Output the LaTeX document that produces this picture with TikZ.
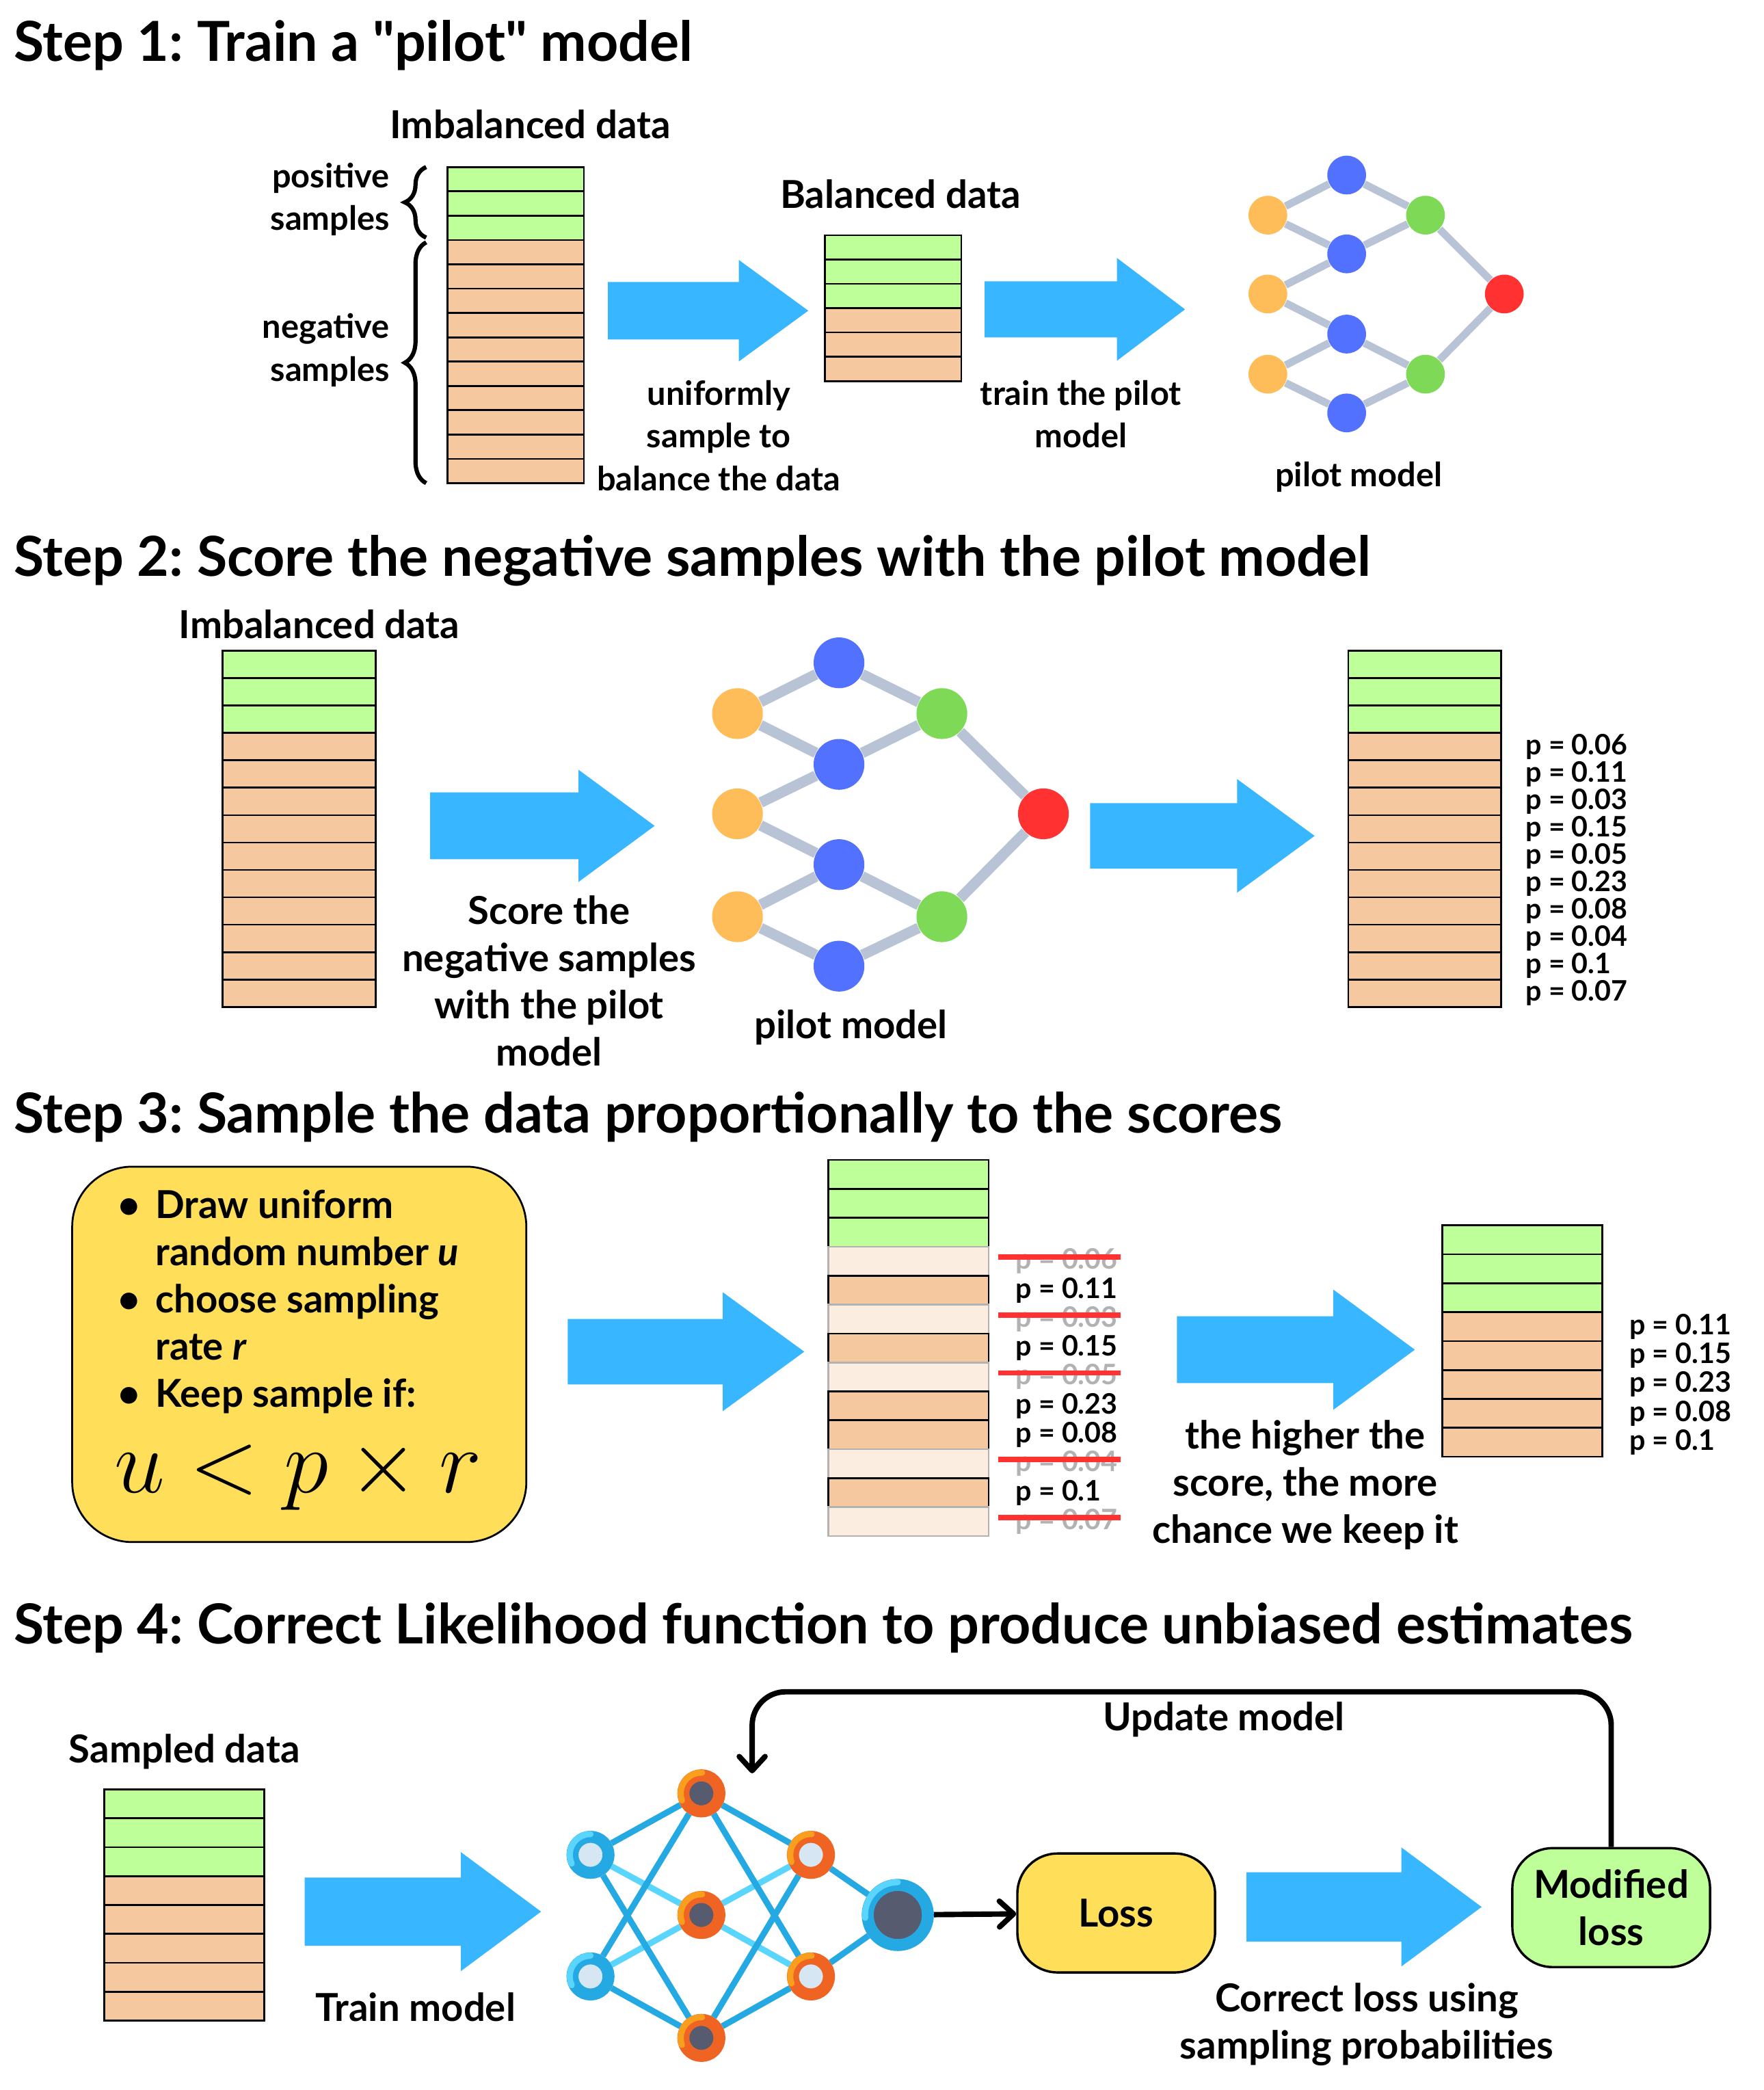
\documentclass[tikz,border=0pt]{standalone}
\usepackage{graphicx}
\usepackage{fontspec}
\setmainfont{Lato}[Ligatures=TeXOff]
\usetikzlibrary{positioning,arrows.meta,decorations.pathreplacing}

\definecolor{posgreen}{RGB}{190,255,153}
\definecolor{negorange}{RGB}{246,200,160}
\definecolor{gonefill}{RGB}{252,237,225}
\definecolor{gonegray}{RGB}{178,178,178}
\definecolor{arrowblue}{RGB}{56,182,255}
\definecolor{notegold}{RGB}{255,222,89}
\definecolor{strikered}{RGB}{255,49,49}
\definecolor{nnorange}{RGB}{255,189,89}
\definecolor{nnblue}{RGB}{82,113,255}
\definecolor{nngreen}{RGB}{126,217,87}
\definecolor{nnred}{RGB}{255,49,49}
\definecolor{nnedge}{RGB}{184,196,214}
\definecolor{icblue}{RGB}{36,169,227}
\definecolor{icsky}{RGB}{90,213,253}
\definecolor{icrust}{RGB}{239,100,35}
\definecolor{icamber}{RGB}{249,159,29}
\definecolor{icslate}{RGB}{86,91,112}
\definecolor{icpale}{RGB}{214,230,242}

% x0, tip x, head x, y centre, shaft half, head half
\newcommand{\fatarrow}[6]{%
  \fill[arrowblue] (#1,-#4+#5) -- (#3,-#4+#5) -- (#3,-#4+#6) -- (#2,-#4)
    -- (#3,-#4-#6) -- (#3,-#4-#5) -- (#1,-#4-#5) -- cycle;}

\tikzset{
  posrow/.style={draw, line width=0.8pt, fill=posgreen, inner sep=0, outer sep=0},
  negrow/.style={draw, line width=0.8pt, fill=negorange, inner sep=0, outer sep=0},
  gonerow/.style={draw=gonegray, line width=0.8pt, fill=gonefill, inner sep=0, outer sep=0},
  sa/.style={minimum width=2.04cm, minimum height=0.364cm},
  sb/.style={minimum width=2.29cm, minimum height=0.41cm},
  sc/.style={minimum width=2.4cm, minimum height=0.433cm},
  steptitle/.style={font=\fontsize{23.5}{28}\selectfont\bfseries, anchor=base west, inner sep=0},
  lbl/.style={font=\fontsize{16.4}{20.1}\selectfont\bfseries, align=center, inner sep=0},
  slbl/.style={font=\fontsize{14.2}{18.1}\selectfont\bfseries, align=center, inner sep=0},
  plab/.style={font=\fontsize{12}{12}\selectfont\bfseries, inner sep=0},
  gonelab/.style={plab, text=gonegray},
  strike/.style={strikered, line width=2.3pt},
  brace/.style={decorate, decoration={brace, amplitude=0.32cm}, line width=1.8pt},
  unitA/.style={circle, inner sep=0, minimum size=0.58cm},
  unitB/.style={circle, inner sep=0, minimum size=0.76cm},
  wireA/.style={nnedge, line width=3.2pt},
  wireB/.style={nnedge, line width=4.5pt},
  ringsm/.style 2 args={circle, draw=#1, fill=#2, line width=5.1pt, inner sep=0, minimum size=0.54cm},
  ringbig/.style 2 args={circle, draw=#1, fill=#2, line width=5.1pt, inner sep=0, minimum size=0.9cm},
  glint/.style={line width=2.6pt, line cap=round},
  link/.style={icblue, line width=2.6pt},
  linklt/.style={icsky, line width=2.6pt},
  lossbox/.style={lbl, draw, line width=1pt, rounded corners=0.6cm, minimum width=2.96cm, minimum height=1.78cm},
  flow/.style={line width=2.3pt, -{Straight Barb[length=6pt, width=11pt, round]}},
}

\begin{document}
\frenchspacing
\begin{tikzpicture}[x=0.02cm, y=0.02cm]
\fill[white] (0,0) rectangle (1320,-1564);
\useasboundingbox (0,0) rectangle (1320,-1564);

% Step 1
\node[steptitle] (h1) at (10,-46) {Step 1: Train a "pilot" model};
\node[lbl] (t1) at (397,-93) {Imbalanced data};
\node[posrow, sa] (s1a0) at (386,-134.1) {};
\node[posrow, sa, below=0pt of s1a0] (s1a1) {};
\node[posrow, sa, below=0pt of s1a1] (s1a2) {};
\node[negrow, sa, below=0pt of s1a2] (s1a3) {};
\node[negrow, sa, below=0pt of s1a3] (s1a4) {};
\node[negrow, sa, below=0pt of s1a4] (s1a5) {};
\node[negrow, sa, below=0pt of s1a5] (s1a6) {};
\node[negrow, sa, below=0pt of s1a6] (s1a7) {};
\node[negrow, sa, below=0pt of s1a7] (s1a8) {};
\node[negrow, sa, below=0pt of s1a8] (s1a9) {};
\node[negrow, sa, below=0pt of s1a9] (s1a10) {};
\node[negrow, sa, below=0pt of s1a10] (s1a11) {};
\node[negrow, sa, below=0pt of s1a11] (s1a12) {};
\draw[brace] ([xshift=-0.32cm, yshift=1pt]s1a2.south west) -- ([xshift=-0.32cm]s1a0.north west);
\draw[brace] ([xshift=-0.32cm]s1a12.south west) -- ([xshift=-0.32cm, yshift=-1pt]s1a3.north west);
\node[slbl, anchor=east, align=right] (possamp) at (292,-149) {positive\\samples};
\node[slbl, anchor=east, align=right] (negsamp) at (292,-262) {negative\\samples};
\fatarrow{455}{605}{553}{232.5}{21.5}{38}
\node[slbl] (t2) at (538,-326) {uniformly\\sample to\\balance the data};
\node[lbl] (t3) at (674,-145) {Balanced data};
\node[posrow, sa] (s1b0) at (668.5,-185.1) {};
\node[posrow, sa, below=0pt of s1b0] (s1b1) {};
\node[posrow, sa, below=0pt of s1b1] (s1b2) {};
\node[negrow, sa, below=0pt of s1b2] (s1b3) {};
\node[negrow, sa, below=0pt of s1b3] (s1b4) {};
\node[negrow, sa, below=0pt of s1b4] (s1b5) {};
\fatarrow{737}{887}{836}{231.5}{21}{38.5}
\node[slbl] (t4) at (809,-310) {train the pilot\\model};
\node[unitA, fill=nnorange] (ao1) at (949,-161) {};
\node[unitA, fill=nnorange] (ao2) at (949,-220) {};
\node[unitA, fill=nnorange] (ao3) at (949,-280) {};
\node[unitA, fill=nnblue] (ab1) at (1008,-131) {};
\node[unitA, fill=nnblue] (ab2) at (1008,-190) {};
\node[unitA, fill=nnblue] (ab3) at (1008,-250) {};
\node[unitA, fill=nnblue] (ab4) at (1008,-309) {};
\node[unitA, fill=nngreen] (ag1) at (1067,-161) {};
\node[unitA, fill=nngreen] (ag2) at (1067,-280) {};
\node[unitA, fill=nnred] (ar) at (1126,-220) {};
\draw[wireA] (ao1) -- (ab1);
\draw[wireA] (ao1) -- (ab2);
\draw[wireA] (ao2) -- (ab2);
\draw[wireA] (ao2) -- (ab3);
\draw[wireA] (ao3) -- (ab3);
\draw[wireA] (ao3) -- (ab4);
\draw[wireA] (ab1) -- (ag1);
\draw[wireA] (ab2) -- (ag1);
\draw[wireA] (ab3) -- (ag2);
\draw[wireA] (ab4) -- (ag2);
\draw[wireA] (ag1) -- (ar);
\draw[wireA] (ag2) -- (ar);
\node[slbl] (t5) at (1017,-357) {pilot model};

% Step 2
\node[steptitle] (h2) at (10,-431) {Step 2: Score the negative samples with the pilot model};
\node[lbl] (t6) at (239,-467) {Imbalanced data};
\node[posrow, sb] (s2a0) at (224,-497.25) {};
\node[posrow, sb, below=0pt of s2a0] (s2a1) {};
\node[posrow, sb, below=0pt of s2a1] (s2a2) {};
\node[negrow, sb, below=0pt of s2a2] (s2a3) {};
\node[negrow, sb, below=0pt of s2a3] (s2a4) {};
\node[negrow, sb, below=0pt of s2a4] (s2a5) {};
\node[negrow, sb, below=0pt of s2a5] (s2a6) {};
\node[negrow, sb, below=0pt of s2a6] (s2a7) {};
\node[negrow, sb, below=0pt of s2a7] (s2a8) {};
\node[negrow, sb, below=0pt of s2a8] (s2a9) {};
\node[negrow, sb, below=0pt of s2a9] (s2a10) {};
\node[negrow, sb, below=0pt of s2a10] (s2a11) {};
\node[negrow, sb, below=0pt of s2a11] (s2a12) {};
\fatarrow{322}{490}{433}{618}{25}{42}
\node[lbl] (t7) at (411,-734) {Score the\\negative samples\\with the pilot\\model};
\node[unitB, fill=nnorange] (bo1) at (552,-534) {};
\node[unitB, fill=nnorange] (bo2) at (552,-609) {};
\node[unitB, fill=nnorange] (bo3) at (552,-686) {};
\node[unitB, fill=nnblue] (bb1) at (628,-496) {};
\node[unitB, fill=nnblue] (bb2) at (628,-572) {};
\node[unitB, fill=nnblue] (bb3) at (628,-647) {};
\node[unitB, fill=nnblue] (bb4) at (628,-723) {};
\node[unitB, fill=nngreen] (bg1) at (705,-534) {};
\node[unitB, fill=nngreen] (bg2) at (705,-686) {};
\node[unitB, fill=nnred] (br) at (781,-609) {};
\draw[wireB] (bo1) -- (bb1);
\draw[wireB] (bo1) -- (bb2);
\draw[wireB] (bo2) -- (bb2);
\draw[wireB] (bo2) -- (bb3);
\draw[wireB] (bo3) -- (bb3);
\draw[wireB] (bo3) -- (bb4);
\draw[wireB] (bb1) -- (bg1);
\draw[wireB] (bb2) -- (bg1);
\draw[wireB] (bb3) -- (bg2);
\draw[wireB] (bb4) -- (bg2);
\draw[wireB] (bg1) -- (br);
\draw[wireB] (bg2) -- (br);
\node[lbl] (t8) at (637,-769) {pilot model};
\fatarrow{816}{984}{926}{625.5}{24.5}{42.5}
\node[posrow, sb] (s2b0) at (1066.5,-497.25) {};
\node[posrow, sb, below=0pt of s2b0] (s2b1) {};
\node[posrow, sb, below=0pt of s2b1] (s2b2) {};
\node[negrow, sb, below=0pt of s2b2] (s2b3) {};
\node[negrow, sb, below=0pt of s2b3] (s2b4) {};
\node[negrow, sb, below=0pt of s2b4] (s2b5) {};
\node[negrow, sb, below=0pt of s2b5] (s2b6) {};
\node[negrow, sb, below=0pt of s2b6] (s2b7) {};
\node[negrow, sb, below=0pt of s2b7] (s2b8) {};
\node[negrow, sb, below=0pt of s2b8] (s2b9) {};
\node[negrow, sb, below=0pt of s2b9] (s2b10) {};
\node[negrow, sb, below=0pt of s2b10] (s2b11) {};
\node[negrow, sb, below=0pt of s2b11] (s2b12) {};
\node[plab, right=0.36cm of s2b3] (p2l0) {p = 0.06};
\node[plab, right=0.36cm of s2b4] (p2l1) {p = 0.11};
\node[plab, right=0.36cm of s2b5] (p2l2) {p = 0.03};
\node[plab, right=0.36cm of s2b6] (p2l3) {p = 0.15};
\node[plab, right=0.36cm of s2b7] (p2l4) {p = 0.05};
\node[plab, right=0.36cm of s2b8] (p2l5) {p = 0.23};
\node[plab, right=0.36cm of s2b9] (p2l6) {p = 0.08};
\node[plab, right=0.36cm of s2b10] (p2l7) {p = 0.04};
\node[plab, right=0.36cm of s2b11] (p2l8) {p = 0.1};
\node[plab, right=0.36cm of s2b12] (p2l9) {p = 0.07};

% Step 3
\node[steptitle] (h3) at (10,-848) {Step 3: Sample the data proportionally to the scores};
\node[draw, line width=0.8pt, fill=notegold, rounded corners=0.9cm, minimum width=6.8cm, minimum height=5.62cm] (note) at (224,-1013.5) {};
\node[lbl, anchor=base west, align=left] (bul) at (88,-911.5) {\begin{tabular}[t]{@{}p{0.56cm}@{}l@{}}
\textbullet & Draw uniform\\
 & random number \textit{u}\\
\textbullet & choose sampling\\
 & rate \textit{r}\\
\textbullet & Keep sample if:
\end{tabular}};
\node[anchor=base, inner sep=0, font=\fontsize{24.88}{28}\selectfont] (rule) at (223,-1117) {\scalebox{1.55}{$u < p \times r$}};
\fatarrow{425}{602}{541}{1011.5}{24.5}{44.5}
\node[posrow, sc] (s3a0) at (680,-878.85) {};
\node[posrow, sc, below=0pt of s3a0] (s3a1) {};
\node[posrow, sc, below=0pt of s3a1] (s3a2) {};
\node[gonerow, sc, below=0pt of s3a2] (s3a3) {};
\node[negrow, sc, below=0pt of s3a3] (s3a4) {};
\node[gonerow, sc, below=0pt of s3a4] (s3a5) {};
\node[negrow, sc, below=0pt of s3a5] (s3a6) {};
\node[gonerow, sc, below=0pt of s3a6] (s3a7) {};
\node[negrow, sc, below=0pt of s3a7] (s3a8) {};
\node[negrow, sc, below=0pt of s3a8] (s3a9) {};
\node[gonerow, sc, below=0pt of s3a9] (s3a10) {};
\node[negrow, sc, below=0pt of s3a10] (s3a11) {};
\node[gonerow, sc, below=0pt of s3a11] (s3a12) {};
\node[gonelab, right=0.4cm of s3a3] (p3l0) {p = 0.06};
\node[plab, right=0.4cm of s3a4] (p3l1) {p = 0.11};
\node[gonelab, right=0.4cm of s3a5] (p3l2) {p = 0.03};
\node[plab, right=0.4cm of s3a6] (p3l3) {p = 0.15};
\node[gonelab, right=0.4cm of s3a7] (p3l4) {p = 0.05};
\node[plab, right=0.4cm of s3a8] (p3l5) {p = 0.23};
\node[plab, right=0.4cm of s3a9] (p3l6) {p = 0.08};
\node[gonelab, right=0.4cm of s3a10] (p3l7) {p = 0.04};
\node[plab, right=0.4cm of s3a11] (p3l8) {p = 0.1};
\node[gonelab, right=0.4cm of s3a12] (p3l9) {p = 0.07};
\draw[strike] ([xshift=-0.26cm, yshift=0.06cm]p3l0.west) -- ([xshift=0.04cm, yshift=0.06cm]p3l0.east);
\draw[strike] ([xshift=-0.26cm, yshift=0.06cm]p3l2.west) -- ([xshift=0.04cm, yshift=0.06cm]p3l2.east);
\draw[strike] ([xshift=-0.26cm, yshift=0.06cm]p3l4.west) -- ([xshift=0.04cm, yshift=0.06cm]p3l4.east);
\draw[strike] ([xshift=-0.26cm, yshift=0.06cm]p3l7.west) -- ([xshift=0.04cm, yshift=0.06cm]p3l7.east);
\draw[strike] ([xshift=-0.26cm, yshift=0.06cm]p3l9.west) -- ([xshift=0.04cm, yshift=0.06cm]p3l9.east);
\fatarrow{881}{1059}{998}{1010}{25}{45}
\node[lbl] (t9) at (977,-1111) {the higher the\\score, the more\\chance we keep it};
\node[posrow, sc] (s3b0) at (1139.5,-927.8) {};
\node[posrow, sc, below=0pt of s3b0] (s3b1) {};
\node[posrow, sc, below=0pt of s3b1] (s3b2) {};
\node[negrow, sc, below=0pt of s3b2] (s3b3) {};
\node[negrow, sc, below=0pt of s3b3] (s3b4) {};
\node[negrow, sc, below=0pt of s3b4] (s3b5) {};
\node[negrow, sc, below=0pt of s3b5] (s3b6) {};
\node[negrow, sc, below=0pt of s3b6] (s3b7) {};
\node[plab, right=0.4cm of s3b3] (p3r0) {p = 0.11};
\node[plab, right=0.4cm of s3b4] (p3r1) {p = 0.15};
\node[plab, right=0.4cm of s3b5] (p3r2) {p = 0.23};
\node[plab, right=0.4cm of s3b6] (p3r3) {p = 0.08};
\node[plab, right=0.4cm of s3b7] (p3r4) {p = 0.1};

% Step 4
\node[steptitle] (h4) at (10,-1230) {Step 4: Correct Likelihood function to produce unbiased estimates};
\node[lbl] (t10) at (138,-1311) {Sampled data};
\node[posrow, sc] (s4r0) at (138,-1349.8) {};
\node[posrow, sc, below=0pt of s4r0] (s4r1) {};
\node[posrow, sc, below=0pt of s4r1] (s4r2) {};
\node[negrow, sc, below=0pt of s4r2] (s4r3) {};
\node[negrow, sc, below=0pt of s4r3] (s4r4) {};
\node[negrow, sc, below=0pt of s4r4] (s4r5) {};
\node[negrow, sc, below=0pt of s4r5] (s4r6) {};
\node[negrow, sc, below=0pt of s4r6] (s4r7) {};
\fatarrow{228}{405}{345}{1430.5}{25.5}{44.5}
\node[lbl] (t11) at (311,-1502) {Train model};
\node[ringsm={icblue}{icpale}] (i1) at (442,-1388) {};
\node[ringsm={icblue}{icpale}] (i2) at (442,-1479) {};
\node[ringsm={icrust}{icslate}] (k1) at (525,-1342) {};
\node[ringsm={icrust}{icslate}] (k2) at (525,-1433) {};
\node[ringsm={icrust}{icslate}] (k3) at (525,-1525) {};
\node[ringsm={icrust}{icpale}] (m1) at (607,-1388) {};
\node[ringsm={icrust}{icpale}] (m2) at (607,-1479) {};
\node[ringbig={icblue}{icslate}] (out) at (672,-1433) {};
\draw[linklt] (i1) -- (k2);
\draw[linklt] (i2) -- (k2);
\draw[linklt] (k2) -- (m1);
\draw[linklt] (k2) -- (m2);
\draw[link] (i1) -- (k1);
\draw[link] (i1) -- (k3);
\draw[link] (i2) -- (k1);
\draw[link] (i2) -- (k3);
\draw[link] (k1) -- (m1);
\draw[link] (k1) -- (m2);
\draw[link] (k3) -- (m1);
\draw[link] (k3) -- (m2);
\draw[link] (m1) -- (out);
\draw[link] (m2) -- (out);
\draw[glint, icsky] ([shift={(90:15.5)}]i1.center) arc[start angle=90, end angle=205, radius=15.5];
\draw[glint, icsky] ([shift={(90:15.5)}]i2.center) arc[start angle=90, end angle=205, radius=15.5];
\draw[glint, icamber] ([shift={(88:15.5)}]k1.center) arc[start angle=88, end angle=200, radius=15.5];
\draw[glint, icamber] ([shift={(88:15.5)}]k2.center) arc[start angle=88, end angle=200, radius=15.5];
\draw[glint, icamber] ([shift={(88:15.5)}]k3.center) arc[start angle=88, end angle=200, radius=15.5];
\draw[glint, icamber] ([shift={(88:15.5)}]m1.center) arc[start angle=88, end angle=200, radius=15.5];
\draw[glint, icamber] ([shift={(88:15.5)}]m2.center) arc[start angle=88, end angle=200, radius=15.5];
\draw[glint, icsky] ([shift={(90:24.5)}]out.center) arc[start angle=90, end angle=185, radius=24.5];
\node[lossbox, fill=notegold] (loss) at (835.5,-1431.5) {Loss};
\draw[flow] (out) -- (loss);
\fatarrow{933}{1109}{1049}{1427}{26}{44.5}
\node[lossbox, fill=posgreen] (modl) at (1206,-1427.5) {Modified\\loss};
\node[lbl] (t12) at (1023,-1515) {Correct loss using\\sampling probabilities};
\coordinate (fbtop) at (563,-1266);
\coordinate (fbdrop) at (563,-1327);
\draw[flow, rounded corners=0.5cm] (modl.north) |- (fbtop) -- (fbdrop);
\node[lbl] (t13) at (916,-1287) {Update model};
\end{tikzpicture}
\end{document}
